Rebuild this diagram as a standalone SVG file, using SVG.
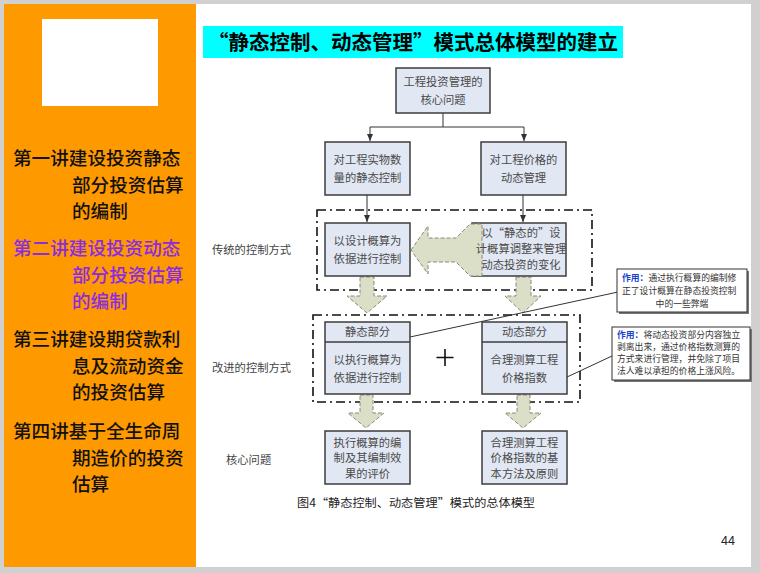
<svg xmlns="http://www.w3.org/2000/svg" width="760" height="573" viewBox="0 0 760 573">
<style>
.cjk{font-family:"Noto Sans CJK SC","Noto Sans CJK JP",sans-serif}
.side{font-size:18.6px;font-weight:500;fill:#111}
.side2{font-size:18.6px;font-weight:500;fill:#8a2be2}
.box{fill:#e1e7f3;stroke:#3c3c3c;stroke-width:1.5}
.bt{font-size:11.3px;fill:#4a4a4a;text-anchor:middle}
.lab{font-size:11.3px;fill:#444}
.thin{stroke:#333;stroke-width:1;fill:none}
.dd{fill:none;stroke:#111;stroke-width:1.6;stroke-dasharray:9,4,2,4}
.blk{fill:#dcdfc7;stroke:#8a8a7a;stroke-width:1;stroke-dasharray:4,2}
.call{fill:#fff;stroke:#333;stroke-width:1}
.ct{font-size:8.8px;fill:#333}
.cb{fill:#1a3fd0;font-weight:bold}
</style>
<defs>
<marker id="ah" markerWidth="8" markerHeight="8" refX="7" refY="4" orient="auto" markerUnits="userSpaceOnUse">
<path d="M0,1 L7,4 L0,7 Z" fill="#333"/>
</marker>
</defs>
<rect x="0" y="0" width="760" height="573" fill="#d0d0d0"/>
<rect x="4" y="4" width="747" height="563" fill="#ffffff"/>
<g id="sidebar">
<rect x="4" y="4" width="192" height="563" fill="#ff9900"/>
<rect x="42" y="19" width="116" height="87" fill="#ffffff"/>
<g class="cjk">
<text class="side" x="13" y="165">第一讲建设投资静态</text>
<text class="side" x="72" y="192">部分投资估算</text>
<text class="side" x="72" y="218">的编制</text>
<text class="side2" x="13" y="255">第二讲建设投资动态</text>
<text class="side2" x="72" y="282">部分投资估算</text>
<text class="side2" x="72" y="308">的编制</text>
<text class="side" x="13" y="346">第三讲建设期贷款利</text>
<text class="side" x="72" y="373">息及流动资金</text>
<text class="side" x="72" y="399">的投资估算</text>
<text class="side" x="13" y="438">第四讲基于全生命周</text>
<text class="side" x="72" y="465">期造价的投资</text>
<text class="side" x="72" y="491">估算</text>
</g>
</g>
<g id="title">
<rect x="203" y="26" width="420" height="32" fill="#00ffff"/>
<text class="cjk" x="208" y="50" font-size="20.5" font-weight="bold" fill="#000" textLength="410" lengthAdjust="spacingAndGlyphs">“静态控制、动态管理”模式总体模型的建立</text>
</g>
<g id="frames">
<rect class="dd" x="317" y="210" width="275" height="80"/>
<rect class="dd" x="313" y="315" width="267" height="87"/>
</g>
<g id="connectors">
<path class="thin" d="M443,113 V127 M370,127 H524"/>
<path class="thin" d="M370,127 V141" marker-end="url(#ah)"/>
<path class="thin" d="M524,127 V141" marker-end="url(#ah)"/>
<path class="thin" d="M367,195 V222" marker-end="url(#ah)"/>
<path class="thin" d="M523,195 V222" marker-end="url(#ah)"/>
<path class="blk" d="M360,277 H374 V296 H387 L367,313 L347,296 H360 Z"/>
<path class="blk" d="M516,277 H531 V296 H541 L523,313 L505,296 H516 Z"/>
<path class="blk" d="M360,395 H373 V413 H384 L366,428 L348,413 H360 Z"/>
<path class="blk" d="M517,395 H530 V413 H541 L523,428 L505,413 H517 Z"/>
<path class="thin" d="M410,337 L618,292"/>
<path class="thin" d="M567,377 L612,356"/>
</g>
<g id="n-top">
<rect class="box" x="396" y="68" width="94" height="45"/>
<text class="cjk bt" x="443" y="86">工程投资管理的</text>
<text class="cjk bt" x="443" y="104">核心问题</text>
</g>
<g id="n-a">
<rect class="box" x="325" y="142" width="85" height="53"/>
<text class="cjk bt" x="367.5" y="164">对工程实物数</text>
<text class="cjk bt" x="367.5" y="182">量的静态控制</text>
</g>
<g id="n-b">
<rect class="box" x="481" y="142" width="85" height="53"/>
<text class="cjk bt" x="523.5" y="164">对工程价格的</text>
<text class="cjk bt" x="523.5" y="182">动态管理</text>
</g>
<g id="n-c">
<rect class="box" x="325" y="223" width="85" height="53"/>
<text class="cjk bt" x="367.5" y="245">以设计概算为</text>
<text class="cjk bt" x="367.5" y="263">依据进行控制</text>
</g>
<g id="n-d">
<rect class="box" x="472" y="223" width="94" height="53"/>
<path class="blk" d="M411,250 L428,226 V238 H456 L470,224 H482 V276 H470 L456,262 H428 V274 Z"/>
<text class="cjk bt" x="521" y="237">以“静态的”设</text>
<text class="cjk bt" x="521" y="253">计概算调整来管理</text>
<text class="cjk bt" x="521" y="269">动态投资的变化</text>
</g>
<g id="n-e">
<rect class="box" x="325" y="322" width="85" height="72"/>
<line x1="325" y1="342" x2="410" y2="342" stroke="#3c3c3c" stroke-width="1.5"/>
<text class="cjk bt" x="367.5" y="336">静态部分</text>
<text class="cjk bt" x="367.5" y="364">以执行概算为</text>
<text class="cjk bt" x="367.5" y="382">依据进行控制</text>
</g>
<g id="plus">
<path d="M445,349 V366 M436.5,357.5 H453.5" stroke="#111" stroke-width="1.6"/>
</g>
<g id="n-f">
<rect class="box" x="482" y="322" width="85" height="72"/>
<line x1="482" y1="342" x2="567" y2="342" stroke="#3c3c3c" stroke-width="1.5"/>
<text class="cjk bt" x="524.5" y="336">动态部分</text>
<text class="cjk bt" x="524.5" y="364">合理测算工程</text>
<text class="cjk bt" x="524.5" y="382">价格指数</text>
</g>
<g id="n-g">
<rect class="box" x="325" y="431" width="85" height="53"/>
<text class="cjk bt" x="367.5" y="447">执行概算的编</text>
<text class="cjk bt" x="367.5" y="462">制及其编制效</text>
<text class="cjk bt" x="367.5" y="478">果的评价</text>
</g>
<g id="n-h">
<rect class="box" x="482" y="431" width="85" height="53"/>
<text class="cjk bt" x="524.5" y="447">合理测算工程</text>
<text class="cjk bt" x="524.5" y="462">价格指数的基</text>
<text class="cjk bt" x="524.5" y="478">本方法及原则</text>
</g>
<g id="labels" class="cjk">
<text class="lab" x="212" y="254">传统的控制方式</text>
<text class="lab" x="212" y="372">改进的控制方式</text>
<text class="lab" x="226" y="464">核心问题</text>
<text x="297" y="507" font-size="11.3" fill="#222" textLength="238" lengthAdjust="spacingAndGlyphs">图4“静态控制、动态管理”模式的总体模型</text>
</g>
<g id="callout1">
<rect x="619" y="271" width="130" height="43" fill="#777"/>
<rect class="call" x="617" y="269" width="130" height="43"/>
<text class="cjk ct" x="622" y="281"><tspan class="cb">作用：</tspan>通过执行概算的编制修</text>
<text class="cjk ct" x="622" y="294">正了设计概算在静态投资控制</text>
<text class="cjk ct" x="682" y="307" text-anchor="middle">中的一些弊端</text>
</g>
<g id="callout2">
<rect x="614" y="329" width="138" height="53" fill="#777"/>
<rect class="call" x="612" y="327" width="138" height="53"/>
<text class="cjk ct" x="617" y="338"><tspan class="cb">作用：</tspan>将动态投资部分内容独立</text>
<text class="cjk ct" x="617" y="350">剥离出来，通过价格指数测算的</text>
<text class="cjk ct" x="617" y="362">方式来进行管理，并免除了项目</text>
<text class="cjk ct" x="617" y="374">法人难以承担的价格上涨风险。</text>
</g>
<text x="721" y="545" font-family="Liberation Sans, Arial, sans-serif" font-size="12.5" fill="#222">44</text>
</svg>
